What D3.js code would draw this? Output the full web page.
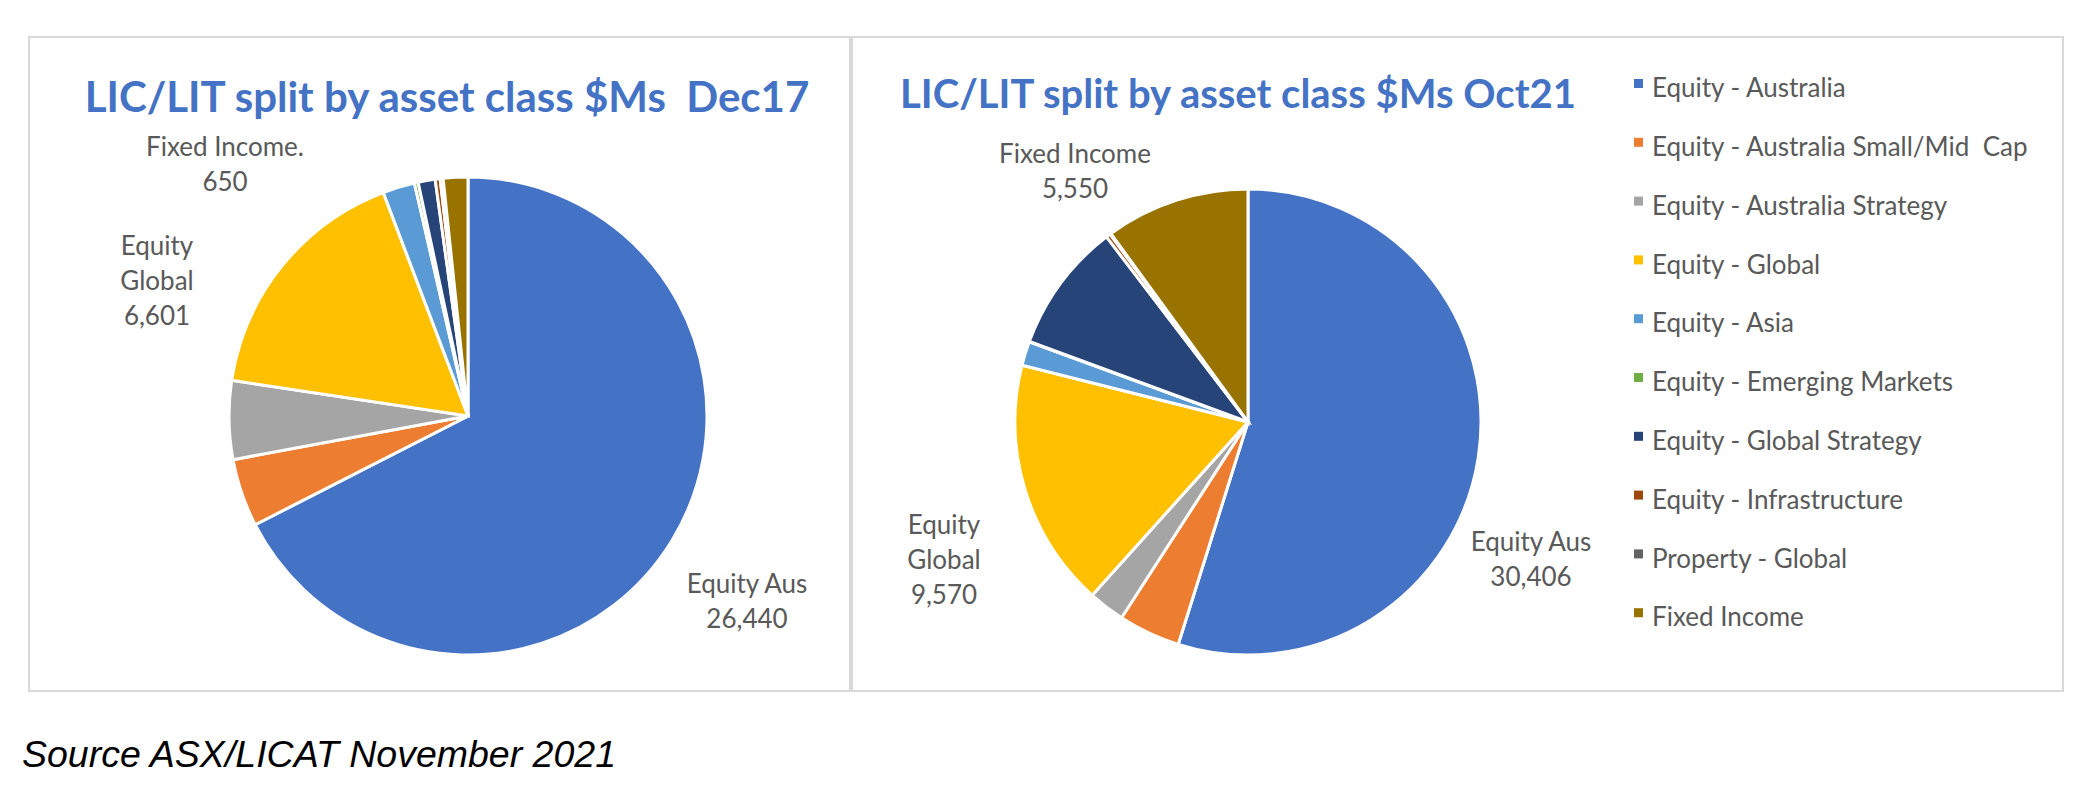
<!DOCTYPE html>
<html>
<head>
<meta charset="utf-8">
<script src="https://cdn.jsdelivr.net/npm/d3@7"></script>
<style>
  body { margin: 0; background: #fff; }
  svg { display: block; }
  text { white-space: pre; }
</style>
</head>
<body>
<svg id="chart"></svg>
<script>
// asset classes, in the order Excel draws them (clockwise from 12 o'clock)
const categories = [
  'Equity - Australia',
  'Equity - Australia Small/Mid  Cap',
  'Equity - Australia Strategy',
  'Equity - Global',
  'Equity - Asia',
  'Equity - Emerging Markets',
  'Equity - Global Strategy',
  'Equity - Infrastructure',
  'Property - Global',
  'Fixed Income',
];
const colours = ['#4472C4', '#ED7D31', '#A5A5A5', '#FFC000', '#5B9BD5',
  '#70AD47', '#264478', '#9E480E', '#636363', '#997300'];

// $M (labelled ones are exact)
const dec17Values = [26440, 1800, 2080, 6601, 850, 100, 450, 130, 80, 650];
const oct21Values = [30406, 2380, 1400, 9570, 930, 20, 4980, 170, 40, 5550];

const dec17Title = 'LIC/LIT split by asset class $Ms  Dec17';
const oct21Title = 'LIC/LIT split by asset class $Ms Oct21';

// data labels: which slice, and the text lines above the value
const dec17Labels = [
  { i: 0, name: ['Equity Aus'] },
  { i: 3, name: ['Equity', 'Global'] },
  { i: 9, name: ['Fixed Income.'] },
];
const oct21Labels = [
  { i: 0, name: ['Equity Aus'] },
  { i: 3, name: ['Equity', 'Global'] },
  { i: 9, name: ['Fixed Income'] },
];

const sourceNote = 'Source ASX/LICAT November 2021';

const width = 2085;
const height = 809;
const fmt = d3.format(',');

const svg = d3.select('#chart')
  .attr('width', width)
  .attr('height', height);

svg.append('rect')
  .attr('width', width)
  .attr('height', height)
  .attr('fill', '#fff');

// panel frames
svg.append('rect')
  .attr('x', 29).attr('y', 37)
  .attr('width', 821).attr('height', 654)
  .attr('fill', 'none')
  .attr('stroke', '#d9d9d9')
  .attr('stroke-width', 2);
svg.append('rect')
  .attr('x', 852).attr('y', 37)
  .attr('width', 1211).attr('height', 654)
  .attr('fill', 'none')
  .attr('stroke', '#d9d9d9')
  .attr('stroke-width', 2);

// label spots are hand placed in the original, so keep them as offsets from the centre
function drawPie(opts) {
  const g = svg.append('g')
    .attr('transform', `translate(${opts.cx},${opts.cy})`);

  const pie = d3.pie().sort(null).value(d => d);
  const arc = d3.arc().innerRadius(0).outerRadius(opts.r);
  const arcs = pie(opts.values);

  g.selectAll('path')
    .data(arcs)
    .enter()
    .append('path')
    .attr('d', arc)
    .attr('fill', (d, i) => colours[i])
    .attr('stroke', '#fff')
    .attr('stroke-width', 3);

  svg.append('text')
    .attr('x', opts.titleX)
    .attr('y', opts.titleY)
    .attr('text-anchor', 'middle')
    .style('font-family', 'Lato, sans-serif')
    .style('font-weight', 'bold')
    .style('font-size', `${opts.titleSize}px`)
    .style('fill', '#4472C4')
    .text(opts.title);

  opts.labels.forEach((lab, k) => {
    const spot = opts.spots[k];
    const lines = lab.name.concat([fmt(opts.values[lab.i])]);
    const t = g.append('text')
      .attr('text-anchor', 'middle')
      .style('font-family', 'Lato, sans-serif')
      .style('font-size', '26px')
      .style('fill', '#595959');
    lines.forEach((line, j) => {
      t.append('tspan')
        .attr('x', spot[0])
        .attr('y', spot[1] + j * 35)
        .text(line);
    });
  });
}

drawPie({
  values: dec17Values,
  labels: dec17Labels,
  title: dec17Title,
  cx: 468, cy: 416, r: 239,
  titleX: 447, titleY: 112, titleSize: 42,
  spots: [[279, 177], [-311, -161], [-243, -260]],
});

drawPie({
  values: oct21Values,
  labels: oct21Labels,
  title: oct21Title,
  cx: 1248, cy: 422, r: 233,
  titleX: 1238, titleY: 108, titleSize: 40,
  spots: [[283, 129], [-304, 112], [-173, -259]],
});

// legend
const legend = svg.append('g')
  .attr('transform', 'translate(1634,88)');

const row = legend.selectAll('g')
  .data(categories)
  .enter()
  .append('g')
  .attr('transform', (d, i) => `translate(0,${i * 58.8})`);

row.append('rect')
  .attr('x', 0)
  .attr('y', -9)
  .attr('width', 9)
  .attr('height', 9)
  .attr('fill', (d, i) => colours[i]);

row.append('text')
  .attr('x', 18)
  .attr('y', 0)
  .attr('dy', '0.35em')
  .style('font-family', 'Lato, sans-serif')
  .style('font-size', '26px')
  .style('fill', '#595959')
  .text(d => d);

svg.append('text')
  .attr('x', 22)
  .attr('y', 767)
  .style('font-family', '"Liberation Sans", Arial, sans-serif')
  .style('font-style', 'italic')
  .style('font-size', '37.5px')
  .style('fill', '#000')
  .text(sourceNote);
</script>
</body>
</html>
